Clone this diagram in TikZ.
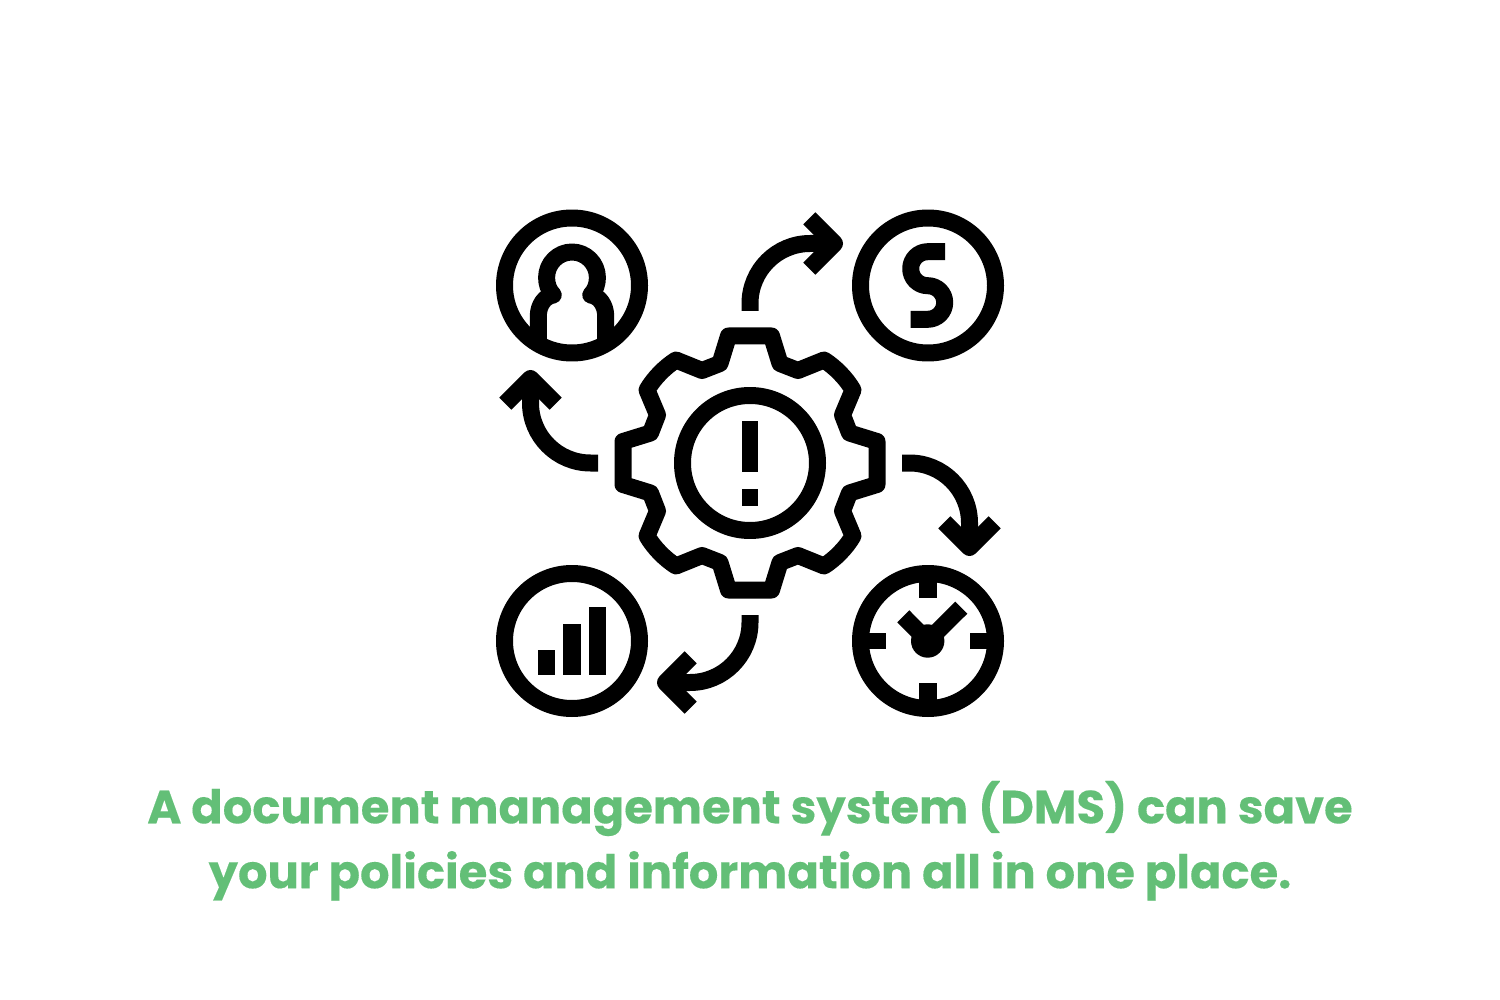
\documentclass[tikz,border=0pt]{standalone}
\usepackage{fontspec}
\setmainfont{Poppins}[BoldFeatures={FakeBold=0.25}]
\definecolor{dmsgreen}{HTML}{63BF77}
\tikzset{
  ico/.style={line width=17pt,draw=black,line cap=butt,line join=round},
  captext/.style={text=dmsgreen,font=\bfseries\fontsize{46.4}{65}\selectfont,anchor=base,inner sep=0pt},
  bar/.style={fill=black,draw=none}
}
\begin{document}
\begin{tikzpicture}[x=1pt,y=-1pt]
\useasboundingbox (0,0) rectangle (1500,1000);
\fill[white] (0,0) rectangle (1500,1000);
% circles
\draw[ico] (572,285.5) circle[radius=67.5pt];
\draw[ico] (928,285.5) circle[radius=67.5pt];
\draw[ico] (572,641) circle[radius=67.5pt];
\draw[ico] (928,641) circle[radius=67.5pt];
\draw[ico] (750,463) circle[radius=67.5pt];
% gear
\draw[ico] (728.5,336) -- (720,363.5) -- (702,370.5) -- (676,360) .. controls (665,367) and (654,378) .. (647,390) -- (657.5,415) -- (650.5,433) -- (623,441.5)
 -- (623,484.5) -- (650.5,493) -- (657.5,511) -- (647,536) .. controls (654,548) and (665,559) .. (676,566) -- (702,555.5) -- (720,562.5) -- (728.5,590)
 -- (771.5,590) -- (780,562.5) -- (798,555.5) -- (824,566) .. controls (835,559) and (846,548) .. (853,536) -- (842.5,511) -- (849.5,493) -- (877,484.5)
 -- (877,441.5) -- (849.5,433) -- (842.5,415) -- (853,390) .. controls (846,378) and (835,367) .. (824,360) -- (798,370.5) -- (780,363.5) -- (771.5,336) -- cycle;
% exclamation
\fill[bar] (741.7,420.7) rectangle (758.3,471.7);
\fill[bar] (741.7,489) rectangle (758.3,506);
% arrows
\foreach \a in {0,90,180,270}{
  \begin{scope}[rotate around={\a:(750,463)}]
    \draw[ico] (750,311) -- (750,303.5) .. controls (750,270.4) and (776.9,243.5) .. (810,243.5) -- (834.5,243.5);
    \draw[ico] (809.3,218.3) -- (834.5,243.5) -- (809.3,268.7);
  \end{scope}
}
% person
\draw[ico] (538.3,342) -- (538.3,316) .. controls (538.3,305) and (545,296) .. (553.3,295)
  .. controls (548.5,290) and (546.6,284) .. (546.6,277.5)
  .. controls (546.6,263.5) and (558,252) .. (572,252)
  .. controls (586,252) and (597.4,263.5) .. (597.4,277.5)
  .. controls (597.4,284) and (595.5,290) .. (590.7,295)
  .. controls (599,296) and (605.7,305) .. (605.7,316) -- (605.7,342);
% dollar
\draw[ico] (945,251.7) -- (927.7,251.7) .. controls (918.3,251.7) and (910.7,259.3) .. (910.7,268.7)
  .. controls (910.7,278.1) and (918.3,285.7) .. (927.7,285.7)
  .. controls (937.1,285.7) and (944.7,293.1) .. (944.7,302.5)
  .. controls (944.7,311.9) and (937.1,319.3) .. (927.7,319.3) -- (910.7,319.3);
% chart
\fill[bar] (538.3,650) rectangle (555.3,675);
\fill[bar] (563.3,624.3) rectangle (580.7,675);
\fill[bar] (589.3,607) rectangle (606,675);
% clock
\fill[bar] (919.3,575) rectangle (936.7,598.3);
\fill[bar] (919.3,683.3) rectangle (936.7,707);
\fill[bar] (862,632.7) rectangle (885.7,649.3);
\fill[bar] (970,632.7) rectangle (994,649.3);
\fill[bar] (927.7,641) circle[radius=16.7pt];
\draw[ico] (903.3,616.3) -- (927.7,641) -- (961.3,607.7);
% caption
\node[captext] (line1) at (750,823.3) {A document management system (DMS) can save};
\node[captext] (line2) at (750,888.2) {your policies and information all in one place.};
\end{tikzpicture}
\end{document}
